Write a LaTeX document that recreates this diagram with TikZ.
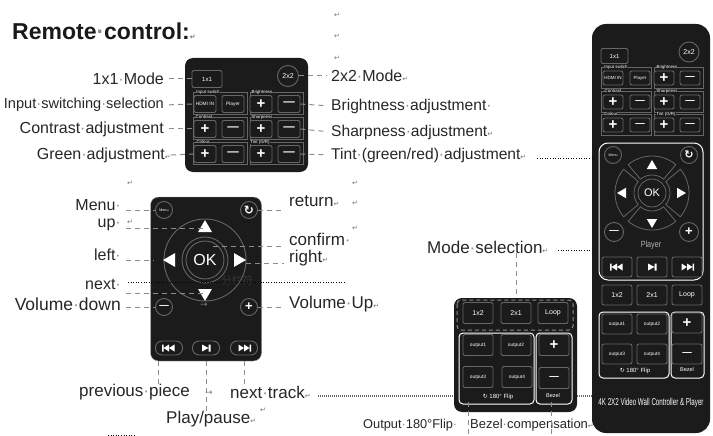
\documentclass[tikz,border=0pt]{standalone}
\usepackage{fontspec}
\setmainfont{Liberation Sans}
\newfontfamily\symfont{DejaVu Sans}
\newfontfamily\cjkfont{Noto Sans CJK SC}
\usepackage{pgf,tikz}
\usetikzlibrary{shapes.geometric}
\definecolor{panelcol}{HTML}{1B1B1B}
\definecolor{edgecol}{HTML}{666666}
\newcommand{\spdot}{{\color{black!45}·}}
\newcommand{\retmark}{{\symfont\fontsize{7}{8}\selectfont\color{black!55}↵}}
\newcommand{\minussign}{{\fontsize{11.5}{12}\selectfont---}}
\newcommand{\minussmall}{{\fontsize{9.5}{10}\selectfont---}}
\tikzstyle{lbl} = [inner sep=0pt, text=black!85, font=\fontsize{16}{18}\selectfont]
\tikzstyle{lblbig} = [inner sep=0pt, text=black!85, font=\fontsize{17}{19}\selectfont]
\tikzstyle{lblmid} = [inner sep=0pt, text=black!85, font=\fontsize{15.6}{18}\selectfont]
\tikzstyle{lblsmall} = [inner sep=0pt, text=black!85, font=\fontsize{12.8}{14}\selectfont]
\tikzstyle{markr} = [inner sep=0pt, text=black!55, font=\symfont\fontsize{7}{8}\selectfont]
\tikzstyle{panel} = [fill=panelcol, rounded corners=8pt, inner sep=0pt]
\tikzstyle{btn} = [draw=edgecol, line width=0.9pt, fill=panelcol, rounded corners=2pt, text=white, inner sep=0pt, minimum width=22pt, minimum height=17pt, font=\fontsize{6}{7}\selectfont]
\tikzstyle{btnsign} = [btn, font=\bfseries\fontsize{15}{15}\selectfont]
\tikzstyle{btnbig} = [btn, minimum width=30pt, minimum height=21pt, font=\fontsize{7}{8}\selectfont]
\tikzstyle{btnout} = [btnbig, font=\fontsize{4.8}{5}\selectfont]
\tikzstyle{signbig} = [btnbig, font=\bfseries\fontsize{15}{15}\selectfont]
\tikzstyle{rnd} = [draw=edgecol, line width=0.9pt, fill=panelcol, circle, text=white, inner sep=0pt, minimum size=17pt, font=\bfseries\fontsize{13}{13}\selectfont]
\tikzstyle{pill} = [draw=edgecol, line width=0.9pt, fill=panelcol, rounded corners=6.5pt, inner sep=0pt, minimum width=27pt, minimum height=14pt]
\tikzstyle{tinytxt} = [text=white, inner sep=0pt, font=\fontsize{4.4}{5}\selectfont]
\tikzstyle{grp} = [draw=edgecol, line width=0.5pt]
\tikzstyle{tri} = [fill=white, regular polygon, regular polygon sides=3, inner sep=0pt, minimum size=16pt]
\tikzstyle{frame} = [draw=white, line width=1pt, rounded corners=4pt]
\tikzstyle{dashframe} = [draw=black!45, line width=1pt, dash pattern=on 4pt off 3pt, rounded corners=4pt]
\tikzstyle{segm} = [draw=edgecol, line width=0.8pt]
\tikzstyle{leader} = [draw=black!45, line width=1pt, dash pattern=on 5pt off 4pt]
\tikzstyle{leaderl} = [leader, shorten <=5pt]
\tikzstyle{leaderr} = [leader, shorten >=5pt]
\tikzstyle{brk} = [draw=black, line width=0.6pt, dotted]
\tikzstyle{brkdense} = [draw=black!60, line width=1.6pt, dash pattern=on 1pt off 1pt]
\newcommand{\prevmark}[2]{\fill[white] (#1-7,#2-3.5) rectangle (#1-5.5,#2+3.5) (#1-5.5,#2) -- (#1,#2-3.5) -- (#1,#2+3.5) -- cycle (#1,#2) -- (#1+5.5,#2-3.5) -- (#1+5.5,#2+3.5) -- cycle;}
\newcommand{\nextmark}[2]{\fill[white] (#1+5.5,#2-3.5) rectangle (#1+7,#2+3.5) (#1+5.5,#2) -- (#1,#2-3.5) -- (#1,#2+3.5) -- cycle (#1,#2) -- (#1-5.5,#2-3.5) -- (#1-5.5,#2+3.5) -- cycle;}
\newcommand{\playmark}[2]{\fill[white] (#1+2.5,#2-3.5) rectangle (#1+4.5,#2+3.5) (#1+2.5,#2) -- (#1-4,#2-3.5) -- (#1-4,#2+3.5) -- cycle;}

\begin{document}
\begin{tikzpicture}[x=1pt,y=-1pt]
	\useasboundingbox (0,0) rectangle (713,436);
	\node[inner sep=0pt, anchor=west, text=black!90, font=\bfseries\fontsize{23}{26}\selectfont](title) at (12,31) {Remote\spdot control:\retmark};

	\node[panel, minimum width=123pt, minimum height=114pt](paneA) at (246.5,115) {};
	\node[btn, minimum width=30pt](btnOneOne) at (207,79) {1x1};
	\node[rnd, minimum size=21pt, font=\fontsize{7}{8}\selectfont](btnTwoTwo) at (288,76) {2x2};
	\draw[grp] (193,92) rectangle (247,114) (250,92) rectangle (303,114);
	\draw[grp] (193,117) rectangle (247,139) (250,117) rectangle (303,139);
	\draw[grp] (193,142) rectangle (247,164) (250,142) rectangle (303,164);
	\node[tinytxt, fill=panelcol](capInput) at (208,92) {Input switch};
	\node[tinytxt, fill=panelcol](capBright) at (262,92) {Brightness};
	\node[tinytxt, fill=panelcol](capContrast) at (204,117) {Contrast};
	\node[tinytxt, fill=panelcol](capSharp) at (262,117) {Sharpness};
	\node[tinytxt, fill=panelcol](capColour) at (203,142) {Colour};
	\node[tinytxt, fill=panelcol](capTint) at (260,142) {Tint (G/R)};
	\node[btn, font=\fontsize{4.8}{5}\selectfont](btnHdmi) at (205,104) {HDMI IN};
	\node[btn, font=\fontsize{4.8}{5}\selectfont](btnPlayer) at (233,104) {Player};
	\node[btnsign](btnBrightP) at (261,104) {+};
	\node[btnsign](btnBrightM) at (289,104) {\minussign};
	\node[btnsign](btnContrastP) at (205,129) {+};
	\node[btnsign](btnContrastM) at (233,129) {\minussign};
	\node[btnsign](btnSharpP) at (261,129) {+};
	\node[btnsign](btnSharpM) at (289,129) {\minussign};
	\node[btnsign](btnColourP) at (205,154) {+};
	\node[btnsign](btnColourM) at (233,154) {\minussign};
	\node[btnsign](btnTintP) at (261,154) {+};
	\node[btnsign](btnTintM) at (289,154) {\minussign};

	\node[lbl, anchor=east](lblOneOne) at (164,79) {1x1\spdot Mode};
	\node[lbl, anchor=east, font=\fontsize{14.6}{16}\selectfont](lblInput) at (164,105) {Input\spdot switching\spdot selection};
	\node[lbl, anchor=east](lblContrast) at (164,129) {Contrast\spdot adjustment};
	\node[lbl, anchor=east](lblGreen) at (171,155) {Green\spdot adjustment\retmark};
	\node[lbl, anchor=west](lblTwoTwo) at (331,76) {2x2\spdot Mode\retmark};
	\node[lblmid, anchor=west](lblBright) at (331,106) {Brightness\spdot adjustment\spdot};
	\node[lblmid, anchor=west](lblSharp) at (331,132) {Sharpness\spdot adjustment\retmark};
	\node[lblmid, anchor=west](lblTint) at (331,155) {Tint\spdot (green/red)\spdot adjustment\retmark};
	\draw[leaderl] (lblOneOne.east) -- (btnOneOne.west);
	\draw[leaderl] (lblInput.east) -- (btnHdmi.west);
	\draw[leaderl] (lblContrast.east) -- (btnContrastP.west);
	\draw[leader] (lblGreen.east) -- (btnColourP.west);
	\draw[leaderr] (btnTwoTwo.east) -- (lblTwoTwo.west);
	\draw[leaderr] (btnBrightM.east) -- (lblBright.west);
	\draw[leaderr] (btnSharpM.east) -- (lblSharp.west);
	\draw[leaderr] (btnTintM.east) -- (lblTint.west);

	\node[panel, draw=black!35, minimum width=111pt, minimum height=164pt](paneB) at (206,279) {};
	\node[circle, draw=edgecol, line width=0.9pt, minimum size=82pt](ringOuter) at (205,260) {};
	\node[circle, draw=edgecol, line width=0.9pt, minimum size=46pt](ringMid) at (205,260) {};
	\node[circle, draw=edgecol, line width=0.9pt, text=white, inner sep=0pt, minimum size=38pt, font=\fontsize{16}{18}\selectfont](btnOk) at (205,260) {OK};
	\node[rnd, font=\fontsize{3.6}{4}\selectfont](btnMenu) at (164,210) {Menu};
	\node[rnd, font=\symfont\bfseries\fontsize{12}{12}\selectfont](btnReturn) at (249,210) {↻};
	\node[tri](triUp) at (205,228) {};
	\node[tri, shape border rotate=90](triLeft) at (171,260) {};
	\node[tri, shape border rotate=270](triRight) at (238,260) {};
	\node[tri, shape border rotate=180](triDown) at (205,293) {};
	\node[rnd](btnVolDown) at (164,307) {\minussmall};
	\node[rnd](btnVolUp) at (249,307) {+};
	\node[pill](btnPrev) at (169,348) {};
	\node[pill](btnPlay) at (206,348) {};
	\node[pill](btnNext) at (244,348) {};
	\prevmark{169}{348}
	\playmark{206}{348}
	\nextmark{244}{348}
	\node[markr, text=black!50, font=\symfont\fontsize{9}{9}\selectfont](tabInner) at (204,305) {→};

	\node[lbl, anchor=east](lblMenu) at (121,205) {Menu\spdot};
	\node[lbl, anchor=east](lblUp) at (121,225) {up\spdot};
	\node[lbl, anchor=east](lblLeft) at (121,255) {left\spdot};
	\node[lbl, anchor=east](lblDownNext) at (121,284) {next\spdot};
	\node[lblbig, anchor=east, font=\fontsize{17.5}{19}\selectfont](lblVolDown) at (121,304) {Volume\spdot down};
	\node[lblbig, anchor=west](lblReturn) at (289,201) {return\retmark};
	\node[lblbig, anchor=west](lblConfirm) at (289,239) {confirm\spdot};
	\node[lblbig, anchor=west](lblRight) at (289,258) {right\retmark};
	\node[lblbig, anchor=west](lblVolUp) at (289,304) {Volume\spdot Up\retmark};
	\node[lblbig, anchor=west](lblPrev) at (79,392) {previous\spdot piece};
	\node[lblbig, anchor=west](lblNext) at (230,392) {next\spdot track\retmark};
	\node[lblbig, anchor=west](lblPlay) at (166,419) {Play/pause\retmark};
	\node[markr, text=black!50, font=\symfont\fontsize{9}{9}\selectfont](tabOuter) at (209,393) {→};
	\coordinate (okPoint) at (213,246);
	\coordinate (prevTop) at (158,361);
	\coordinate (prevEnd) at (158,384);
	\draw[leaderl] (lblMenu.east |- btnMenu) -- (btnMenu.west);
	\draw[leaderl] (lblUp.east |- triUp.center) -- (triUp.center);
	\draw[leaderl] (lblLeft.east |- triLeft) -- ([xshift=4pt]paneB.west |- triLeft);
	\draw[leaderl] (lblDownNext.east |- triDown.center) -- (triDown.center);
	\draw[leaderl] (lblVolDown.east |- btnVolDown) -- (btnVolDown.west);
	\draw[leaderr] (btnReturn.east) -- (btnReturn -| lblReturn.west);
	\draw[leaderr] (okPoint) -- (okPoint -| lblConfirm.west);
	\draw[leaderr] ([yshift=-3pt]triRight.east) -- ([yshift=-3pt]triRight.east -| lblRight.west);
	\draw[leaderr] (btnVolUp.east) -- (btnVolUp -| lblVolUp.west);
	\draw[leader] (prevTop) -- (prevEnd);
	\draw[leader] (btnPlay |- paneB.south) -- (btnPlay |- lblPlay.north);
	\draw[leader] (btnNext |- paneB.south) -- (btnNext |- lblNext.north);

	\node[panel, minimum width=123pt, minimum height=114pt](paneC) at (515.5,355) {};
	\draw[dashframe] (457,300) rectangle (573,330);
	\draw[frame] (459,333) rectangle (534,404);
	\draw[frame] (536,333) rectangle (572,404);
	\node[btnbig](btnOneTwo) at (478,313) {1x2};
	\node[btnbig](btnTwoOne) at (516,313) {2x1};
	\node[btnbig](btnLoop) at (553,313) {Loop};
	\node[btnout](btnOutOne) at (478,345) {output1};
	\node[btnout](btnOutTwo) at (516,345) {output2};
	\node[btnout](btnOutThree) at (478,377) {output3};
	\node[btnout](btnOutFour) at (517,377) {output4};
	\node[signbig](btnBezelP) at (554,345) {+};
	\node[signbig](btnBezelM) at (554,378) {\minussmall};
	\node[tinytxt, font=\fontsize{6}{7}\selectfont](txtFlip) at (498,397) {{\symfont ↻} 180° Flip};
	\node[tinytxt, font=\fontsize{5.5}{6}\selectfont](txtBezel) at (553,396) {Bezel};

	\node[lblbig, anchor=west](lblMode) at (427,247) {Mode\spdot selection\retmark};
	\node[lblsmall, anchor=west](lblFlip) at (363,425) {Output\spdot 180°Flip\spdot};
	\node[lblsmall, anchor=west, font=\fontsize{13}{14}\selectfont](lblBezel) at (470,425) {Bezel\spdot compensation\retmark};
	\coordinate (flipTop) at (468,402);
	\coordinate (flipEnd) at (468,436);
	\coordinate (bezelTop) at (551,402);
	\coordinate (bezelEnd) at (551,436);
	\draw[leader] (btnTwoOne |- lblMode.south) -- (btnTwoOne |- paneC.north);
	\draw[leader] (flipTop) -- (flipEnd);
	\draw[leader] (bezelTop) -- (bezelEnd);

	\node[panel, rounded corners=14pt, minimum width=118pt, minimum height=409pt](remote) at (651,228.5) {};
	\node[btn, minimum width=27pt, minimum height=15pt](rOneOne) at (614.5,56) {1x1};
	\node[rnd, minimum size=20pt, font=\fontsize{7}{8}\selectfont](rTwoTwo) at (689,52) {2x2};
	\draw[grp] (601,67) rectangle (651,88) (654,67) rectangle (703,88);
	\draw[grp] (601,91) rectangle (651,112) (654,91) rectangle (703,112);
	\draw[grp] (601,114) rectangle (651,135) (654,114) rectangle (703,135);
	\node[tinytxt, fill=panelcol](rcapInput) at (616,67) {Input switch};
	\node[tinytxt, fill=panelcol](rcapBright) at (667,67) {Brightness};
	\node[tinytxt, fill=panelcol](rcapContrast) at (613,91) {Contrast};
	\node[tinytxt, fill=panelcol](rcapSharp) at (667,91) {Sharpness};
	\node[tinytxt, fill=panelcol](rcapColour) at (611,114) {Colour};
	\node[tinytxt, fill=panelcol](rcapTint) at (666,114) {Tint (G/R)};
	\node[btn, minimum width=20pt, minimum height=14pt, font=\fontsize{4.5}{5}\selectfont](rHdmi) at (613,78) {HDMI IN};
	\node[btn, minimum width=20pt, minimum height=14pt, font=\fontsize{4.5}{5}\selectfont](rPlayer) at (640,78) {Player};
	\node[btnsign, minimum width=20pt, minimum height=14pt](rBrightP) at (664,78) {+};
	\node[btnsign, minimum width=20pt, minimum height=14pt](rBrightM) at (690,78) {\minussmall};
	\node[btnsign, minimum width=20pt, minimum height=14pt](rContrastP) at (613,102) {+};
	\node[btnsign, minimum width=20pt, minimum height=14pt](rContrastM) at (640,102) {\minussmall};
	\node[btnsign, minimum width=20pt, minimum height=14pt](rSharpP) at (664,102) {+};
	\node[btnsign, minimum width=20pt, minimum height=14pt](rSharpM) at (690,102) {\minussmall};
	\node[btnsign, minimum width=20pt, minimum height=14pt](rColourP) at (613,125) {+};
	\node[btnsign, minimum width=20pt, minimum height=14pt](rColourM) at (640,125) {\minussmall};
	\node[btnsign, minimum width=20pt, minimum height=14pt](rTintP) at (664,125) {+};
	\node[btnsign, minimum width=20pt, minimum height=14pt](rTintM) at (690,125) {\minussmall};

	\draw[frame, rounded corners=9pt] (599,143) rectangle (703,280);
	\begin{scope}[shift={(652,193)}]
		\foreach \ang in {0,90,180,270}
			\draw[segm, rotate=\ang] (50:37) arc (50:130:37) -- (130:18) arc (130:50:18) -- cycle;
	\end{scope}
	\node[circle, draw=edgecol, line width=0.8pt, text=white, inner sep=0pt, minimum size=28pt, font=\fontsize{11}{12}\selectfont](rOk) at (652,193) {OK};
	\node[rnd, font=\fontsize{3.6}{4}\selectfont](rMenu) at (613,155) {Menu};
	\node[rnd, font=\symfont\bfseries\fontsize{11}{11}\selectfont](rReturn) at (689,155) {↻};
	\node[tri, minimum size=12pt](rUp) at (652,166) {};
	\node[tri, minimum size=12pt, shape border rotate=90](rLeft) at (623,193) {};
	\node[tri, minimum size=12pt, shape border rotate=270](rRight) at (680,193) {};
	\node[tri, minimum size=12pt, shape border rotate=180](rDown) at (652,222) {};
	\node[rnd, minimum size=19pt](rVolDown) at (614,232) {\minussmall};
	\node[rnd, minimum size=19pt](rVolUp) at (689,232) {+};
	\node[tinytxt, font=\fontsize{9}{10}\selectfont, text=black!30, xscale=0.8](rPlayerTxt) at (651,245) {Player};
	\node[btnbig, minimum height=20pt](rPrev) at (617,267) {};
	\node[btnbig, minimum height=20pt](rPlay) at (652,267) {};
	\node[btnbig, minimum height=20pt](rNext) at (687,267) {};
	\prevmark{617}{267}
	\playmark{652}{267}
	\nextmark{687}{267}
	\node[btnbig, minimum height=20pt](rOneTwo) at (617,295) {1x2};
	\node[btnbig, minimum height=20pt](rTwoOne) at (652,295) {2x1};
	\node[btnbig, minimum height=20pt](rLoop) at (687,295) {Loop};
	\draw[frame] (599,312) rectangle (669,378);
	\draw[frame] (671,312) rectangle (704,378);
	\node[btnout, minimum height=20pt](rOutOne) at (617,324) {output1};
	\node[btnout, minimum height=20pt](rOutTwo) at (652,324) {output2};
	\node[btnout, minimum height=20pt](rOutThree) at (617,354) {output3};
	\node[btnout, minimum height=20pt](rOutFour) at (652,354) {output4};
	\node[signbig, minimum height=20pt](rBezelP) at (687,323) {+};
	\node[signbig, minimum height=20pt](rBezelM) at (687,354) {\minussmall};
	\node[tinytxt, font=\fontsize{6}{7}\selectfont](rFlip) at (635,371) {{\symfont ↻} 180° Flip};
	\node[tinytxt, font=\fontsize{5.5}{6}\selectfont](rBezel) at (687,370) {Bezel};
	\node[tinytxt, font=\fontsize{10}{11}\selectfont, xscale=0.62](rCaption) at (651,403) {4K 2X2 Video Wall Controller \& Player};

	\coordinate (tintBreak) at (537,158);
	\coordinate (modeBreak) at (558,250);
	\coordinate (colLeft) at (128,282);
	\coordinate (colRight) at (345,282);
	\coordinate (trackBreak) at (318,396);
	\coordinate (lowLeft) at (108,435);
	\coordinate (lowRight) at (135,435);
	\draw[brk] (tintBreak) -- (tintBreak -| remote.west);
	\draw[brk] (modeBreak) -- (modeBreak -| remote.west);
	\draw[brk] (colLeft) -- (colRight);
	\draw[brk] (lowLeft) -- (lowRight);
	\draw[brkdense] (trackBreak) -- (trackBreak -| paneC.west);
	\draw[brkdense] (trackBreak -| paneC.east) -- (trackBreak -| remote.west);
	\node[inner sep=0.5pt, text=black!80, font=\cjkfont\fontsize{10.5}{11}\selectfont](colMark) at (237,281) {分栏符};

	\node[markr](markA) at (337,15) {↵};
	\node[markr](markB) at (337,36) {↵};
	\node[markr](markC) at (337,58) {↵};
	\node[markr](markD) at (130,183) {↵};
	\node[markr](markE) at (355,183) {↵};
	\node[markr](markF) at (355,203) {↵};
	\node[markr](markG) at (355,228) {↵};
	\node[markr](markH) at (130,222) {↵};
	\node[markr](markI) at (263,410) {↵};
\end{tikzpicture}
\end{document}
